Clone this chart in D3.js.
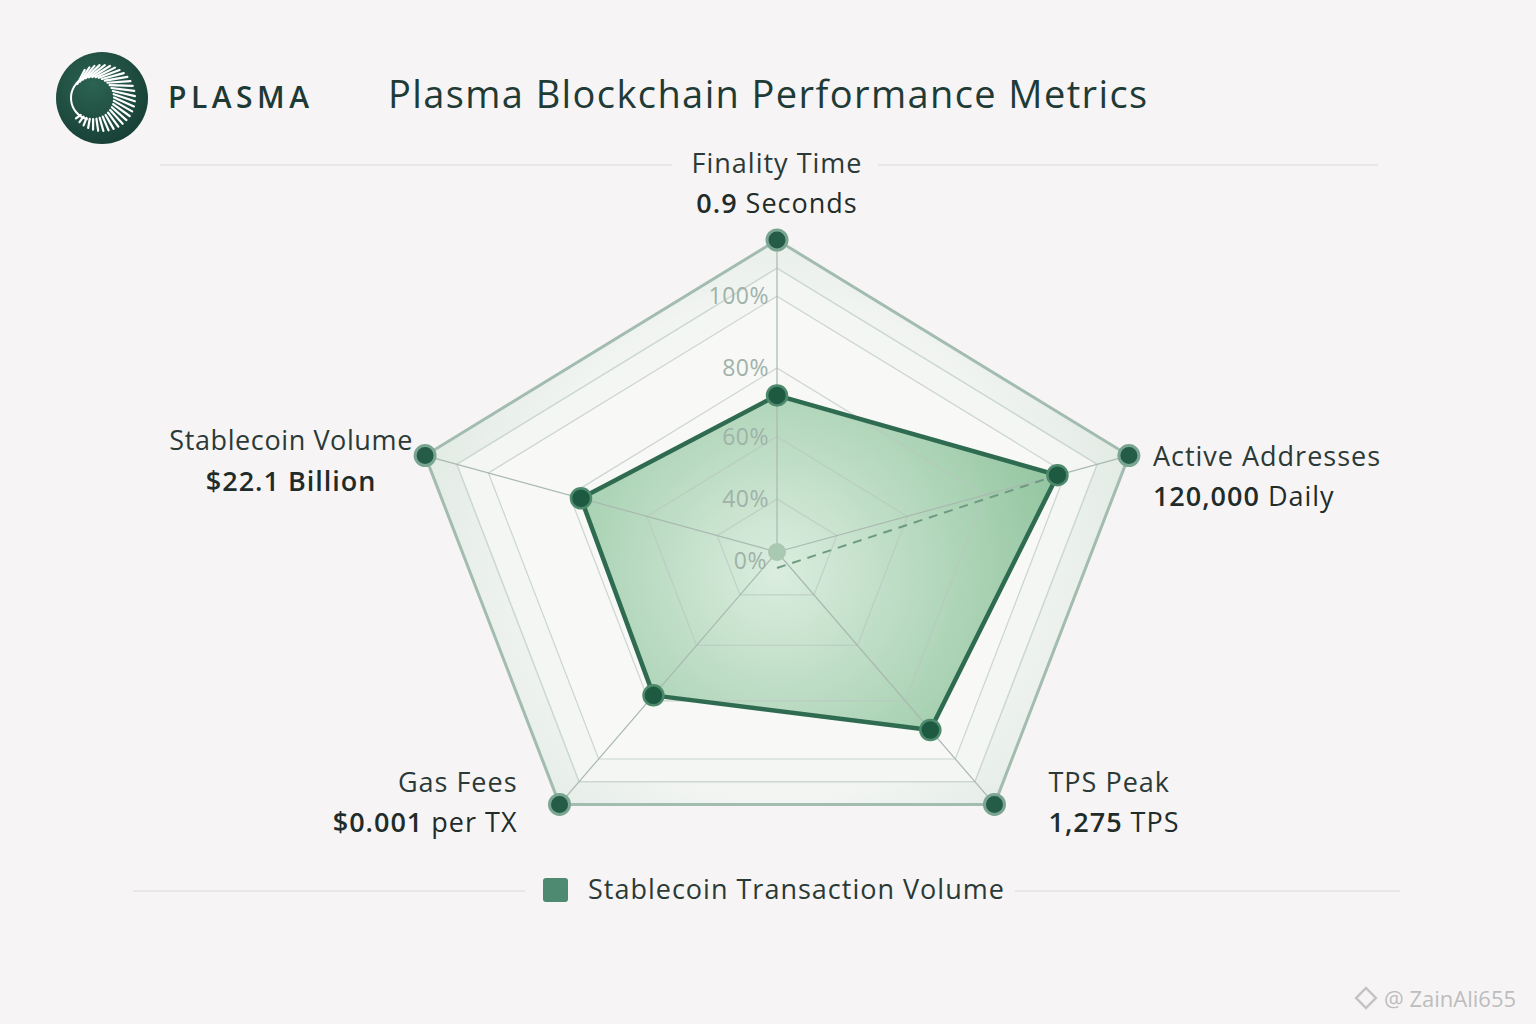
<!DOCTYPE html>
<html>
<head>
<meta charset="utf-8">
<script src="https://cdn.jsdelivr.net/npm/d3@7"></script>
<style>
  html, body { margin: 0; padding: 0; background: #f7f4f6; }
  svg { display: block; font-family: "Open Sans", sans-serif; }
</style>
</head>
<body>
<div id="chart"></div>
<script>
// chart values
const axes = ["Finality Time", "Active Addresses", "TPS Peak", "Gas Fees", "Stablecoin Volume"];
const valueNumbers = ["0.9", "120,000", "1,275", "$0.001", "$22.1"];
const valueUnits = ["Seconds", "Daily", "TPS", "per TX", "Billion"];
const scores = [72, 98, 90, 78, 77];
const ringTicks = [40, 60, 80, 100];
const tickLabels = ["40%", "60%", "80%", "100%"];
const maxScore = 120;
const seriesName = "Stablecoin Transaction Volume";

const width = 1536, height = 1024;
const cx = 777, cy = 552, rx = 370, ry = 312;

const svg = d3.select("#chart").append("svg")
  .attr("width", width)
  .attr("height", height);

const defs = svg.append("defs");

const outerGrad = defs.append("radialGradient")
  .attr("id", "outerFill")
  .attr("gradientUnits", "userSpaceOnUse")
  .attr("cx", cx).attr("cy", cy).attr("r", 360);
outerGrad.append("stop").attr("offset", "0%").attr("stop-color", "#fbfbfa");
outerGrad.append("stop").attr("offset", "70%").attr("stop-color", "#f1f4f1");
outerGrad.append("stop").attr("offset", "100%").attr("stop-color", "#e2ebe5");

const dataGrad = defs.append("radialGradient")
  .attr("id", "dataFill")
  .attr("gradientUnits", "userSpaceOnUse")
  .attr("cx", cx).attr("cy", cy + 20).attr("r", 300);
dataGrad.append("stop").attr("offset", "0%").attr("stop-color", "#d8ecdc");
dataGrad.append("stop").attr("offset", "100%").attr("stop-color", "#86bf95");

const logoGrad = defs.append("radialGradient")
  .attr("id", "logoFill")
  .attr("cx", "40%").attr("cy", "35%").attr("r", "70%");
logoGrad.append("stop").attr("offset", "0%").attr("stop-color", "#2c6352");
logoGrad.append("stop").attr("offset", "100%").attr("stop-color", "#173f35");

// scales
const radius = d3.scaleLinear()
  .domain([0, 40, 60, 80, 100, 120])
  .range([0, 0.17, 0.37, 0.59, 0.82, 1]);
const angle = d3.scaleLinear()
  .domain([0, axes.length])
  .range([0, 2 * Math.PI]);

const point = (i, v) => [
  cx + rx * radius(v) * Math.sin(angle(i)),
  cy - ry * radius(v) * Math.cos(angle(i)),
];
const ring = (v) => d3.line()(axes.map((_, i) => point(i, v))) + "Z";

// header
const logo = svg.append("g").attr("transform", "translate(102,98)");
logo.append("circle").attr("r", 46).attr("fill", "url(#logoFill)");
const stripes = d3.range(30);
logo.selectAll(".stripe")
  .data(stripes)
  .join("line")
  .attr("class", "stripe")
  .each(function (d) {
    const a = -2.4 + (d / (stripes.length - 1)) * 4.6;
    const a2 = a + 0.28;
    d3.select(this)
      .attr("x1", -9 + 21 * Math.cos(a))
      .attr("y1", 21 * Math.sin(a))
      .attr("x2", 33 * Math.cos(a2))
      .attr("y2", 33 * Math.sin(a2));
  })
  .attr("stroke", "#ffffff")
  .attr("stroke-width", 2.2)
  .attr("stroke-linecap", "round");
logo.append("path")
  .attr("d", d3.arc()({ innerRadius: 21, outerRadius: 23, startAngle: -2.9, endAngle: -0.4 }))
  .attr("transform", "translate(-9,0)")
  .attr("fill", "#ffffff");

svg.append("text")
  .attr("x", 168).attr("y", 108)
  .attr("font-size", 30).attr("font-weight", 600)
  .attr("letter-spacing", 4.5)
  .attr("fill", "#1e3a34")
  .text("PLASMA");

svg.append("text")
  .attr("x", 388).attr("y", 108)
  .attr("font-size", 38).attr("font-weight", 500)
  .attr("letter-spacing", 1.4)
  .attr("fill", "#1f3b36")
  .text("Plasma Blockchain Performance Metrics");

// dividers
const dividers = [[160, 672, 165], [878, 1378, 165], [133, 525, 891], [1015, 1400, 891]];
svg.selectAll(".divider")
  .data(dividers)
  .join("line")
  .attr("class", "divider")
  .attr("x1", (d) => d[0]).attr("x2", (d) => d[1])
  .attr("y1", (d) => d[2]).attr("y2", (d) => d[2])
  .attr("stroke", "#dedadc").attr("stroke-width", 1.2);

// radar
const g = svg.append("g");

g.append("path")
  .attr("d", ring(maxScore))
  .attr("fill", "url(#outerFill)");

g.append("path")
  .attr("d", ring(110))
  .attr("fill", "#f4f6f4")
  .attr("stroke", "#cbd8d0")
  .attr("stroke-width", 1.5);

g.append("path")
  .attr("d", ring(100))
  .attr("fill", "#f8f8f7");

g.append("path")
  .attr("d", d3.line()(scores.map((v, i) => point(i, v))) + "Z")
  .attr("fill", "url(#dataFill)")
  .attr("fill-opacity", 0.9);

g.selectAll(".grid-ring")
  .data(ringTicks)
  .join("path")
  .attr("class", "grid-ring")
  .attr("d", ring)
  .attr("fill", "none")
  .attr("stroke", "#b9c6bf")
  .attr("stroke-opacity", 0.7)
  .attr("stroke-width", 1.2);

g.selectAll(".spoke")
  .data(axes)
  .join("line")
  .attr("class", "spoke")
  .attr("x1", cx).attr("y1", cy)
  .attr("x2", (_, i) => point(i, maxScore)[0])
  .attr("y2", (_, i) => point(i, maxScore)[1])
  .attr("stroke", "#a9b8b0")
  .attr("stroke-width", 1.2);

g.append("path")
  .attr("d", ring(maxScore))
  .attr("fill", "none")
  .attr("stroke", "#a3bcb0")
  .attr("stroke-width", 3);

g.append("path")
  .attr("d", d3.line()(scores.map((v, i) => point(i, v))) + "Z")
  .attr("fill", "none")
  .attr("stroke", "#2f6b50")
  .attr("stroke-width", 4.5)
  .attr("stroke-linejoin", "round");

const peak = scores.indexOf(d3.max(scores));
g.append("line")
  .attr("x1", cx).attr("y1", cy + 16)
  .attr("x2", point(peak, scores[peak])[0])
  .attr("y2", point(peak, scores[peak])[1])
  .attr("stroke", "#6f9a82")
  .attr("stroke-width", 2)
  .attr("stroke-dasharray", "9 7");

// tick labels
g.selectAll(".tick-label")
  .data(ringTicks)
  .join("text")
  .attr("class", "tick-label")
  .attr("x", cx - 8)
  .attr("y", (d) => point(0, d)[1])
  .attr("dy", "0.35em")
  .attr("text-anchor", "end")
  .attr("font-size", 23)
  .attr("letter-spacing", 0.5)
  .attr("fill", "#a0b2a8")
  .text((_, i) => tickLabels[i]);

g.append("circle")
  .attr("cx", cx).attr("cy", cy)
  .attr("r", 9)
  .attr("fill", "#a9c9b2");

g.append("text")
  .attr("x", cx - 10).attr("y", cy + 9)
  .attr("dy", "0.35em")
  .attr("text-anchor", "end")
  .attr("font-size", 23)
  .attr("letter-spacing", 0.5)
  .attr("fill", "#a0b2a8")
  .text("0%");

// vertex dots
g.selectAll(".vertex")
  .data(axes)
  .join("circle")
  .attr("class", "vertex")
  .attr("cx", (_, i) => point(i, maxScore)[0])
  .attr("cy", (_, i) => point(i, maxScore)[1])
  .attr("r", 10)
  .attr("fill", "#245c48")
  .attr("stroke", "#7aa592")
  .attr("stroke-width", 3);

g.selectAll(".value-dot")
  .data(scores)
  .join("circle")
  .attr("class", "value-dot")
  .attr("cx", (d, i) => point(i, d)[0])
  .attr("cy", (d, i) => point(i, d)[1])
  .attr("r", 10)
  .attr("fill", "#1e5a42")
  .attr("stroke", "#4d8a6c")
  .attr("stroke-width", 2.5);

// axis labels
const labelPlace = [
  { dx: 0, dy: -67, anchor: "middle" },
  { dx: 24, dy: 10, anchor: "start" },
  { dx: 54, dy: -12, anchor: "start" },
  { dx: -42, dy: -12, anchor: "end" },
  { dx: -134, dy: -6, anchor: "middle" },
];

const labels = g.selectAll(".axis-label")
  .data(axes)
  .join("g")
  .attr("class", "axis-label")
  .attr("transform", (_, i) => {
    const [x, y] = point(i, maxScore);
    return `translate(${x + labelPlace[i].dx},${y + labelPlace[i].dy})`;
  });

labels.append("text")
  .attr("text-anchor", (_, i) => labelPlace[i].anchor)
  .attr("font-size", 27)
  .attr("letter-spacing", (_, i) => (i === 4 ? 0.6 : 1))
  .attr("fill", "#2b3a36")
  .text((d) => d);

const valueText = labels.append("text")
  .attr("y", (_, i) => (i === 4 ? 41 : 40))
  .attr("text-anchor", (_, i) => labelPlace[i].anchor)
  .attr("font-size", 27)
  .attr("letter-spacing", 1)
  .attr("fill", "#1f2c29");
valueText.append("tspan")
  .attr("font-weight", 600)
  .text((_, i) => valueNumbers[i]);
valueText.append("tspan")
  .attr("font-weight", (_, i) => (i === 4 ? 600 : 400))
  .text((_, i) => " " + valueUnits[i]);

// legend
const legend = svg.append("g").attr("transform", "translate(543,878)");
legend.append("rect")
  .attr("width", 25).attr("height", 24).attr("rx", 3)
  .attr("fill", "#4e8a72");
legend.append("text")
  .attr("x", 45).attr("y", 21)
  .attr("font-size", 27)
  .attr("letter-spacing", 1)
  .attr("fill", "#2a3a35")
  .text(seriesName);

// watermark
const mark = svg.append("g").attr("transform", "translate(1366,998)");
mark.append("rect")
  .attr("x", -7).attr("y", -7).attr("width", 14).attr("height", 14)
  .attr("transform", "rotate(45)")
  .attr("fill", "none").attr("stroke", "#c4c4c4").attr("stroke-width", 2.5);
svg.append("text")
  .attr("x", 1384).attr("y", 1007)
  .attr("font-size", 22)
  .attr("fill", "#bdbdbd")
  .text("@ ZainAli655");
</script>
</body>
</html>
